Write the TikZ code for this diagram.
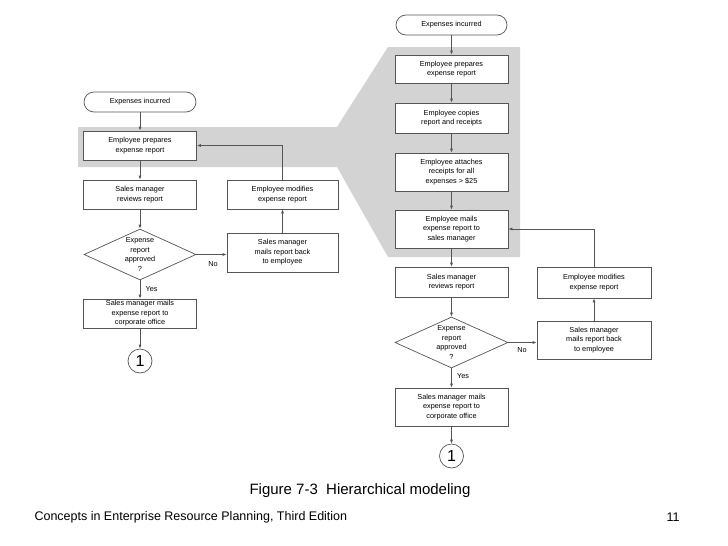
\documentclass[tikz,border=0pt]{standalone}
\usepackage{fontspec}
\setmainfont{Liberation Sans}
\usetikzlibrary{shapes.geometric,arrows.meta}
\definecolor{band}{HTML}{D3D3D3}
\definecolor{ln}{HTML}{555555}
\begin{document}
\begin{tikzpicture}[x=1pt,y=-1pt,
  box/.style={draw=ln,fill=white,line width=0.7pt,inner sep=0pt,align=center,font=\fontsize{7.3}{9.5}\selectfont},
  term/.style={box,rounded corners=10pt},
  dia/.style={draw=ln,fill=white,line width=0.7pt,diamond,aspect=2.2,inner sep=0pt,align=center,font=\fontsize{7.3}{9.5}\selectfont},
  circ/.style={draw=ln,circle,line width=0.7pt,minimum size=24pt,inner sep=0pt,font=\fontsize{16}{16}\selectfont},
  ar/.style={draw=ln,line width=0.7pt,-{Latex[length=4pt,width=3pt]}},
  lab/.style={font=\fontsize{7.3}{9}\selectfont}]
\useasboundingbox (0,0) rectangle (728,546);
\fill[band] (78,127) -- (337,127) -- (388,47) -- (520,47) -- (520,257) -- (388,257) -- (337,167) -- (78,167) -- cycle;
% left
\node[term,minimum width=112pt,minimum height=20pt] (Ls) at (140,102) {Expenses incurred};
\node[box,minimum width=113pt,minimum height=29pt] (L1) at (140,145.5) {Employee prepares\\expense report};
\node[box,minimum width=113pt,minimum height=29pt] (L2) at (140,194.5) {Sales manager\\reviews report};
\node[dia,minimum width=112pt,minimum height=51pt] (Ld) at (140,254.5) {Expense\\report\\approved\\?};
\node[box,minimum width=113pt,minimum height=29pt] (L3) at (140,313.5) {Sales manager mails\\expense report to\\corporate office};
\node[circ] (Lc) at (140,361) {1};
\node[box,minimum width=111pt,minimum height=29pt] (Lm) at (282.5,194.5) {Employee modifies\\expense report};
\node[box,minimum width=111pt,minimum height=39pt] (Lb) at (282.5,252.5) {Sales manager\\mails report back\\to employee};
\draw[ar] (Ls) -- (L1);
\draw[ar] (L1) -- (L2);
\draw[ar] (L2) -- (Ld);
\draw[ar] (Ld) -- (L3) node[lab,pos=0.45,right=2pt] {Yes};
\draw[ar] (L3) -- (Lc);
\draw[ar] (Ld.east) -- (Lb.west|-Ld.east);
\node[lab] (Lno) at (213,264) {No};
\draw[ar] (Lb) -- (Lm);
\draw[ar] (Lm.north) |- (L1.east);
% right
\node[term,minimum width=111pt,minimum height=20pt] (Rs) at (451.5,25) {Expenses incurred};
\node[box,minimum width=113pt,minimum height=28pt] (R1) at (451.5,69) {Employee prepares\\expense report};
\node[box,minimum width=113pt,minimum height=30pt] (R2) at (451.5,118) {Employee copies\\report and receipts};
\node[box,minimum width=113pt,minimum height=38pt] (R3) at (451.5,172) {Employee attaches\\receipts for all\\expenses > \$25};
\node[box,minimum width=113pt,minimum height=38pt] (R4) at (451.5,229) {Employee mails\\expense report to\\sales manager};
\node[box,minimum width=113pt,minimum height=30pt] (R5) at (451.5,282) {Sales manager\\reviews report};
\node[dia,minimum width=113pt,minimum height=51pt] (Rd) at (451.5,342.5) {Expense\\report\\approved\\?};
\node[box,minimum width=113pt,minimum height=38pt] (R6) at (451.5,407) {Sales manager mails\\expense report to\\corporate office};
\node[circ] (Rc) at (451.5,456) {1};
\node[box,minimum width=114pt,minimum height=31pt] (Rm) at (594,282.5) {Employee modifies\\expense report};
\node[box,minimum width=114pt,minimum height=38pt] (Rb) at (594,340) {Sales manager\\mails report back\\to employee};
\draw[ar] (Rs) -- (R1);
\draw[ar] (R1) -- (R2);
\draw[ar] (R2) -- (R3);
\draw[ar] (R3) -- (R4);
\draw[ar] (R4) -- (R5);
\draw[ar] (R5) -- (Rd);
\draw[ar] (Rd) -- (R6) node[lab,pos=0.4,right=2pt] {Yes};
\draw[ar] (R6) -- (Rc);
\draw[ar] (Rd.east) -- (Rb.west|-Rd.east);
\node[lab] (Rno) at (522,350) {No};
\draw[ar] (Rb) -- (Rm);
\draw[ar] (Rm.north) |- (R4.east);
% captions
\node[font=\fontsize{15}{16}\selectfont] (cap) at (360,491) {Figure 7-3\ \ Hierarchical modeling};
\node[font=\fontsize{12.5}{14}\selectfont,anchor=west] (foot) at (31,517) {Concepts in Enterprise Resource Planning, Third Edition};
\node[font=\fontsize{12.5}{14}\selectfont,anchor=west] (pg) at (663,517) {11};
\end{tikzpicture}
\end{document}
